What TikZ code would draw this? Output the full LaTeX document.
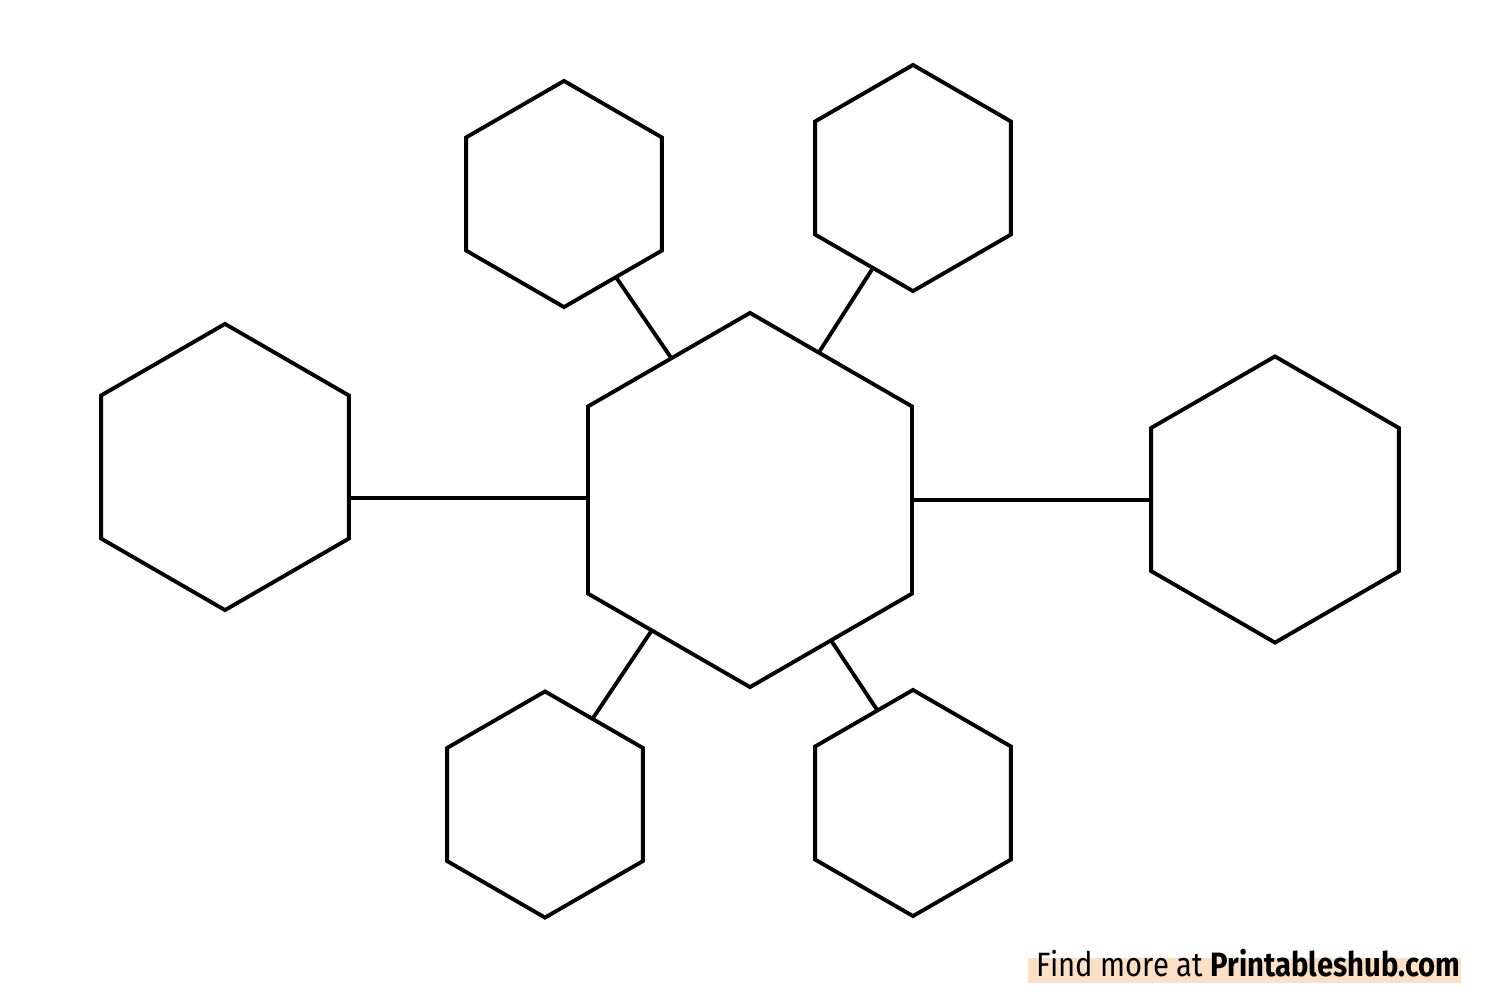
\documentclass[tikz,border=0pt]{standalone}
\usepackage{fontspec}
\setmainfont{Fira Sans}
\usetikzlibrary{shapes.geometric}
\definecolor{peach}{RGB}{251,224,198}
\tikzset{
  hexa/.style={draw=black, line width=1.1pt, regular polygon, regular polygon sides=6,
    shape border rotate=30, inner sep=0pt, outer sep=0pt, minimum size=#1},
  link/.style={draw=black, line width=1.1pt}
}
\begin{document}
\begin{tikzpicture}[x=0.01cm, y=-0.01cm]
\useasboundingbox (0,0) rectangle (1500,1000);
\node[hexa=3.74cm] (c) at (750,500) {};
\node[hexa=2.26cm] (tl) at (564,194) {};
\node[hexa=2.26cm] (tr) at (913,178) {};
\node[hexa=2.26cm] (bl) at (545,804.5) {};
\node[hexa=2.26cm] (br) at (913,803) {};
\node[hexa=2.86cm] (l) at (225,467) {};
\node[hexa=2.86cm] (r) at (1275,499.5) {};
\draw[link] (l.-14.5) -- (c.180 |- l.-14.5);
\draw[link] (c.-0.7) -- (r.180 |- c.-0.7);
\draw[link] (tl.-58.1) -- (c.119.4);
\draw[link] (tr.-114) -- (c.65);
\draw[link] (bl.61) -- (c.-127.3);
\draw[link] (br.111) -- (c.-60.7);
\fill[peach] (1028,958) rectangle (1461,983);
\node[anchor=base west, inner sep=0pt, font=\fontsize{9.6pt}{11pt}\selectfont] (txt) at (1036,976) {\scalebox{0.865}[1]{Find more at \textbf{Printableshub.com}}};
\end{tikzpicture}
\end{document}
